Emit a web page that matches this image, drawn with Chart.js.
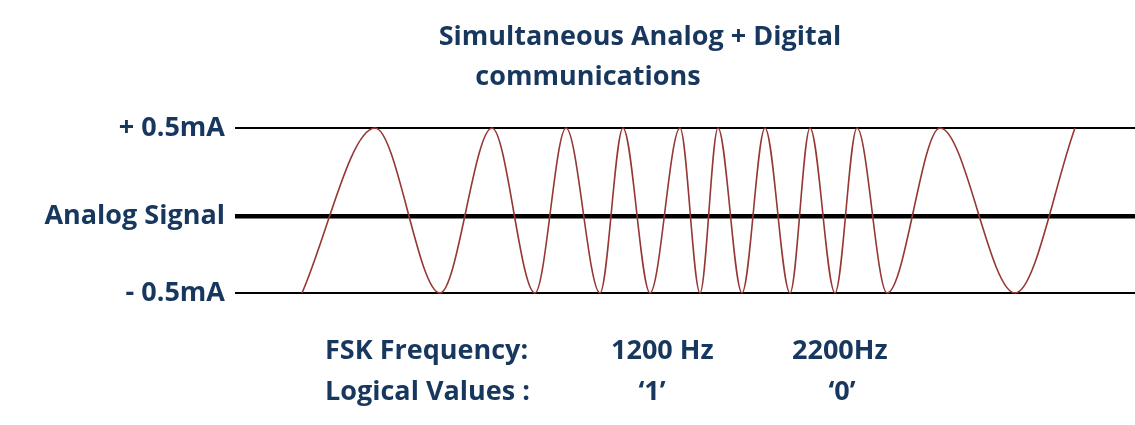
<!DOCTYPE html>
<html><head><meta charset="utf-8">
<script src="https://cdn.jsdelivr.net/npm/chart.js@4"></script>
<style>html,body{margin:0;padding:0;background:#fff}#c{display:block}</style>
</head><body>
<div style="width:1135px;height:425px"><canvas id="c"></canvas></div>
<script>
const titleLines = ["Simultaneous Analog + Digital", "communications"];
const levelValues = [-0.5, -0.035, 0.5];
const levelLabels = {"-0.5": "- 0.5mA", "-0.035": "Analog Signal", "0.5": "+ 0.5mA"};
const waveX = [302, 375, 440, 492, 535, 566, 600, 623, 650, 680, 700, 718, 742, 765, 790, 810, 835, 857, 887, 940, 1015, 1075];
const waveY = [-0.5, 0.5, -0.5, 0.5, -0.5, 0.5, -0.5, 0.5, -0.5, 0.5, -0.5, 0.5, -0.5, 0.5, -0.5, 0.5, -0.5, 0.5, -0.5, 0.5, -0.5, 0.5];
const rowLabels = ["FSK Frequency:", "Logical Values :"];
const freqLabels = ["1200 Hz", "2200Hz"];
const logicLabels = ["\u20181\u2019", "\u20180\u2019"];

const navy = "#17375E";
const fam = "'Open Sans', Lato, sans-serif";
const font = "bold 27px " + fam;
const xMin = 235, xMax = 1135;
const lineDs = (y, w) => ({data: [{x: xMin, y}, {x: xMax, y}], borderColor: "#000", borderWidth: w, pointRadius: 0, order: 2});

const textPlugin = {
  id: "texts",
  afterDraw(chart) {
    const ctx = chart.ctx;
    ctx.save();
    ctx.fillStyle = navy;
    ctx.font = font;
    ctx.textBaseline = "middle";
    ctx.textAlign = "center";
    ctx.fillText(titleLines[0], 640, 37);
    ctx.fillText(titleLines[1], 588, 77);
    ctx.textAlign = "left";
    ctx.fillText(rowLabels[0], 325, 351);
    ctx.fillText(rowLabels[1], 325, 392);
    ctx.fillText(freqLabels[0], 611, 351);
    ctx.fillText(freqLabels[1], 792, 351);
    ctx.textAlign = "center";
    ctx.fillText(logicLabels[0], 652, 392);
    ctx.fillText(logicLabels[1], 842, 392);
    ctx.restore();
  }
};

new Chart(document.getElementById("c"), {
  type: "line",
  data: {
    datasets: [
      lineDs(0.5, 2), lineDs(-0.035, 4.5), lineDs(-0.5, 2),
      {data: waveX.map((x, i) => ({x, y: waveY[i]})), borderColor: "#953735", borderWidth: 1.6,
       pointRadius: 0, cubicInterpolationMode: "monotone", order: 1}
    ]
  },
  options: {
    responsive: true, maintainAspectRatio: false, animation: false,
    layout: {padding: {top: 128, bottom: 132, left: 0, right: 0}},
    plugins: {legend: {display: false}, title: {display: false}, tooltip: {enabled: false}},
    clip: false,
    scales: {
      x: {type: "linear", min: xMin, max: xMax, display: false},
      y: {
        min: -0.5, max: 0.5,
        border: {display: false},
        grid: {display: false},
        afterBuildTicks(s) { s.ticks = levelValues.map(v => ({value: v})); },
        afterFit(s) { s.width = 235; },
        ticks: {color: navy, padding: 2, font: {family: fam, size: 27, weight: "bold"},
          callback: v => levelLabels[String(v)]}
      }
    }
  },
  plugins: [textPlugin]
});
</script>
</body></html>
